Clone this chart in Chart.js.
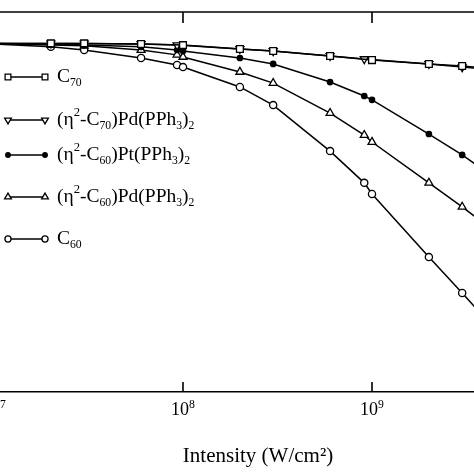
<!DOCTYPE html>
<html>
<head>
<meta charset="utf-8">
<script src="https://cdn.jsdelivr.net/npm/chart.js@4"></script>
<style>
  html, body { margin: 0; padding: 0; background: #fff; overflow: hidden; width: 474px; height: 474px; }
  #marco { position: absolute; left: -60px; top: 0; width: 602px; height: 474px; }
</style>
</head>
<body>
<div id="marco"><canvas id="transmision"></canvas></div>
<script>
// intensidad (W/cm2) y transmision normalizada
const intensidad = [1e7, 2e7, 3e7, 6e7, 9.3e7, 1e8, 2e8, 3e8, 6e8, 9.1e8, 1e9, 2e9, 3e9, 6e9];
const c70    = [1.00, 1.00, 1.00, 0.998, null, 0.995, 0.984, 0.978, 0.964, null, 0.952, 0.941, 0.935, 0.921];
const c70Pd  = [1.00, 1.00, 1.00, 0.998, 0.995, null, 0.984, 0.978, 0.964, 0.955, null, 0.941, 0.932, 0.918];
const c60Pt  = [1.00, 0.998, 0.995, 0.990, 0.981, 0.978, 0.958, 0.941, 0.889, 0.849, 0.838, 0.740, 0.680, 0.565];
const c60Pd  = [1.00, 0.995, 0.993, 0.981, 0.967, 0.961, 0.918, 0.886, 0.800, 0.737, 0.717, 0.600, 0.531, 0.407];
const c60    = [0.998, 0.990, 0.981, 0.958, 0.938, 0.932, 0.875, 0.823, 0.691, 0.600, 0.568, 0.387, 0.284, 0.103];

const nombres = ['C₇₀', '(η²-C₇₀)Pd(PPh₃)₂', '(η²-C₆₀)Pt(PPh₃)₂', '(η²-C₆₀)Pd(PPh₃)₂', 'C₆₀'];
const decadas = [1e7, 1e8, 1e9];
const decadasTexto = ['10⁷', '10⁸', '10⁹'];

const fuente = 'Liberation Serif, DejaVu Serif, serif';

const puntos = serie => intensidad
    .map((x, i) => ({ x: x, y: serie[i] }))
    .filter(p => p.y !== null);

const marcas = [
    { pointStyle: 'rect', radius: 4.8, relleno: '#fff', rotation: 0 },
    { pointStyle: 'triangle', radius: 4.6, relleno: '#fff', rotation: 180 },
    { pointStyle: 'circle', radius: 2.7, relleno: '#000', rotation: 0 },
    { pointStyle: 'triangle', radius: 4.6, relleno: '#fff', rotation: 0 },
    { pointStyle: 'circle', radius: 3.6, relleno: '#fff', rotation: 0 }
];

const series = [c70, c70Pd, c60Pt, c60Pd, c60];

const sub = '₀₁₂₃₄₅₆₇₈₉';
const sup = '⁰¹²³⁴⁵⁶⁷⁸⁹';

// texto con sub/superindices dibujados mas pequenos
function anchoRico(ctx, texto, tam) {
    let w = 0;
    for (const c of texto) {
        let t = c, s = tam;
        if (sub.includes(c)) { t = String(sub.indexOf(c)); s = tam * 0.6; }
        else if (sup.includes(c)) { t = String(sup.indexOf(c)); s = tam * 0.65; }
        ctx.font = s + 'px ' + fuente;
        w += ctx.measureText(t).width;
    }
    return w;
}

function textoRico(ctx, texto, x, y, tam) {
    let cx = x;
    for (const c of texto) {
        let t = c, s = tam, dy = 0;
        if (sub.includes(c)) { t = String(sub.indexOf(c)); s = tam * 0.6; dy = tam * 0.32; }
        else if (sup.includes(c)) { t = String(sup.indexOf(c)); s = tam * 0.65; dy = -tam * 0.4; }
        ctx.font = s + 'px ' + fuente;
        ctx.fillText(t, cx, y + dy);
        cx += ctx.measureText(t).width;
    }
}

const leyenda = {
    id: 'leyenda',
    afterDraw(chart) {
        const ctx = chart.ctx;
        const x0 = chart.chartArea.left + 14;
        const filas = [77, 120, 155, 197, 239];
        ctx.save();
        ctx.textBaseline = 'middle';
        nombres.forEach((nombre, i) => {
            const y = filas[i];
            const m = marcas[i];
            ctx.strokeStyle = '#000';
            ctx.lineWidth = 1.5;
            ctx.beginPath();
            ctx.moveTo(x0, y);
            ctx.lineTo(x0 + 37, y);
            ctx.stroke();
            [x0, x0 + 37].forEach(px => {
                ctx.fillStyle = m.relleno;
                ctx.lineWidth = 1.3;
                Chart.helpers.drawPoint(ctx, { pointStyle: m.pointStyle, rotation: m.rotation, radius: m.radius * 0.85, borderWidth: 1.3 }, px, y);
            });
            ctx.fillStyle = '#000';
            textoRico(ctx, nombre, x0 + 49, y, 19.5);
        });
        ctx.restore();
    }
};

const ejes = {
    id: 'ejes',
    afterDraw(chart) {
        const { ctx, chartArea: a, scales: { x } } = chart;
        ctx.save();
        ctx.strokeStyle = '#000';
        ctx.lineWidth = 1.6;
        ctx.beginPath();
        ctx.moveTo(a.left, a.top);
        ctx.lineTo(a.right, a.top);
        decadas.forEach(d => {
            const px = x.getPixelForValue(d);
            ctx.moveTo(px, a.bottom);
            ctx.lineTo(px, a.bottom - 10);
            ctx.moveTo(px, a.top);
            ctx.lineTo(px, a.top + 11);
        });
        ctx.stroke();
        // etiquetas de las decadas con exponente
        ctx.fillStyle = '#000';
        ctx.textBaseline = 'alphabetic';
        decadas.forEach((d, i) => {
            const px = x.getPixelForValue(d);
            const w = anchoRico(ctx, decadasTexto[i], 18);
            textoRico(ctx, decadasTexto[i], px - w / 2, a.bottom + 23, 18);
        });
        ctx.restore();
    }
};

new Chart(document.getElementById('transmision'), {
    type: 'line',
    data: {
        datasets: series.map((s, i) => ({
            label: nombres[i],
            data: puntos(s),
            borderColor: '#000',
            borderWidth: 1.5,
            pointStyle: marcas[i].pointStyle,
            pointRotation: marcas[i].rotation,
            pointRadius: marcas[i].radius,
            pointBackgroundColor: marcas[i].relleno,
            pointBorderColor: '#000',
            pointBorderWidth: 1.3,
            fill: false,
            tension: 0,
            spanGaps: true
        }))
    },
    options: {
        animation: false,
        responsive: true,
        maintainAspectRatio: false,
        layout: { padding: { left: 54, right: 20, top: 12, bottom: 0 } },
        plugins: { legend: { display: false }, tooltip: { enabled: false } },
        scales: {
            x: {
                type: 'logarithmic',
                min: 1e7,
                max: Math.pow(10, 7 + 528 / 189),
                afterFit: scale => { scale.height = 82; },
                grid: { display: false, drawTicks: false },
                border: { display: true, color: '#000', width: 1.6 },
                ticks: { display: false },
                title: {
                    display: true,
                    text: 'Intensity (W/cm²)',
                    color: '#000',
                    font: { family: fuente, size: 21 },
                    padding: { top: 0, bottom: 5 }
                }
            },
            y: {
                type: 'linear',
                display: false,
                min: 0,
                max: 1.09
            }
        }
    },
    plugins: [ejes, leyenda]
});
</script>
</body>
</html>
